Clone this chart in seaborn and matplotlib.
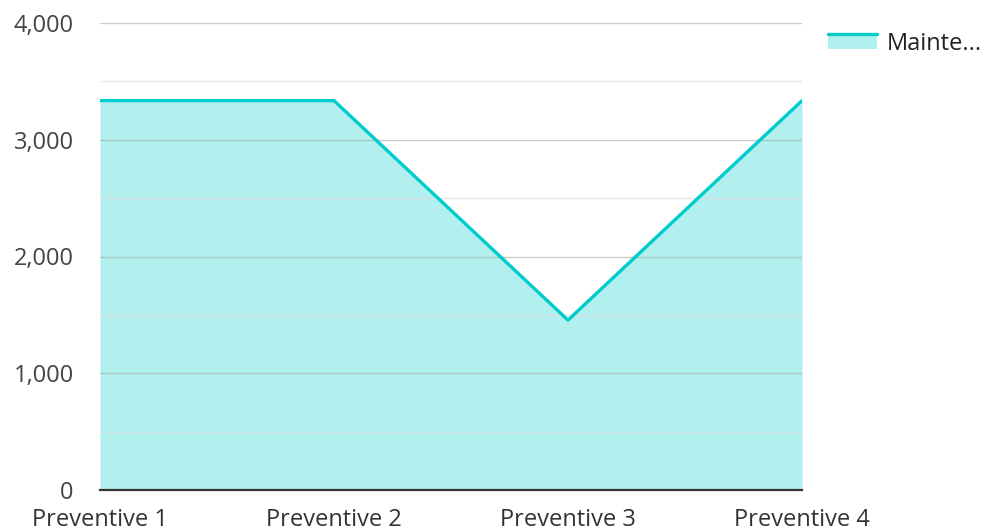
import matplotlib
matplotlib.use("Agg")
import matplotlib.pyplot as plt
import seaborn as sns
import pandas as pd
from matplotlib.legend_handler import HandlerBase
from matplotlib.patches import Rectangle
from matplotlib.lines import Line2D
from matplotlib.ticker import FuncFormatter, MultipleLocator

categories = ["Preventive 1", "Preventive 2", "Preventive 3", "Preventive 4"]
values = [3335, 3335, 1455, 3335]
series_name = "Mainte..."

line_color = "#00CCCC"
fill_color = "#B2EFEF"

sns.set_theme(style="white")
plt.rcParams['font.family'] = ['Open Sans', 'DejaVu Sans']

df = pd.DataFrame({"x": range(len(categories)), "y": values})

fig = plt.figure(figsize=(9.89, 5.31), dpi=100)
ax = fig.add_axes([100/989, 1-490/531, (802-100)/989, (490-23)/531])

ax.fill_between(df["x"], df["y"], 0, color=fill_color, linewidth=0, zorder=0.3)
sns.lineplot(data=df, x="x", y="y", ax=ax, color=line_color, linewidth=2.4, zorder=2)

ax.set_xlim(0, len(categories) - 1)
ax.set_ylim(0, 4000)
ax.set_xticks(range(len(categories)))
ax.set_xticklabels(categories)
ax.yaxis.set_major_locator(MultipleLocator(1000))
ax.yaxis.set_minor_locator(MultipleLocator(500))
ax.yaxis.set_major_formatter(FuncFormatter(lambda v, p: f"{int(v):,}"))
ax.set_axisbelow(True)
ax.grid(axis="y", which="major", color="#aaaaaa", linewidth=1, alpha=0.6)
ax.grid(axis="y", which="minor", color="#dddddd", linewidth=1, alpha=0.7)
ax.grid(axis="x", visible=False)

for s in ["top", "right", "left"]:
    ax.spines[s].set_visible(False)
ax.spines["bottom"].set_color("#333333")
ax.spines["bottom"].set_linewidth(1.6)
ax.spines["bottom"].set_zorder(3)

ax.tick_params(axis="y", which="both", length=0, pad=19, labelsize=17, labelcolor="#444444")
ax.tick_params(axis="x", length=0, pad=13, labelsize=17, labelcolor="#333333")
ax.set_xlabel("")
ax.set_ylabel("")


class AreaHandler(HandlerBase):
    def create_artists(self, legend, orig_handle, xdescent, ydescent, width, height, fontsize, trans):
        r = Rectangle((-xdescent, -ydescent), width, height, facecolor=fill_color,
                      edgecolor="none", transform=trans)
        top = -ydescent + height
        l = Line2D([-xdescent, -xdescent + width], [top, top], color=line_color,
                   linewidth=2.4, transform=trans)
        return [r, l]


handle = Rectangle((0, 0), 1, 1)
leg = fig.legend([handle], [series_name], handler_map={Rectangle: AreaHandler()},
                 loc="upper left", bbox_to_anchor=(828/989, 1-32/531), frameon=False,
                 borderpad=0, borderaxespad=0,
                 handlelength=2.08, handleheight=0.6, handletextpad=0.42, fontsize=17)
for t in leg.get_texts():
    t.set_color("#222222")

fig.savefig("out.png", dpi=100)
